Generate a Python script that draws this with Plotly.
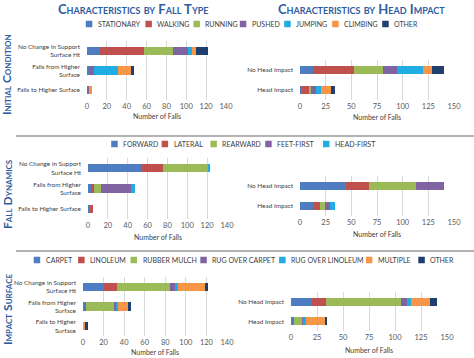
import plotly.graph_objects as go

W, H = 474, 358

# ---------------- data ----------------
fall_types = ["STATIONARY", "WALKING", "RUNNING", "PUSHED", "JUMPING", "CLIMBING", "OTHER"]
dynamics = ["FORWARD", "LATERAL", "REARWARD", "FEET-FIRST", "HEAD-FIRST"]
surfaces = ["CARPET", "LINOLEUM", "RUBBER MULCH", "RUG OVER CARPET", "RUG OVER LINOLEUM", "MULTIPLE", "OTHER"]

cond_cats = ["No Change in Support<br>Surface Ht", "Falls from Higher<br>Surface", "Falls to Higher Surface"]
cond_cats_surf = ["No Change in Support<br>Surface Ht", "Falls from Higher<br>Surface", "Falls to Higher<br>Surface"]
head_cats = ["No Head Impact", "Head Impact"]

# rows follow the series lists; columns follow the category lists
type_by_cond = [[13, 2, 0], [44, 0, 1], [30, 0, 0], [15, 5, 1], [4, 24, 0], [4, 14, 3], [12, 2, 0]]
type_by_head = [[13, 2], [40, 7], [28, 2], [13, 5], [26, 4], [9, 10], [11, 4]]
dyn_by_cond = [[53, 3, 2], [23, 3, 3], [45, 7, 0], [0, 30, 0], [1, 4, 0]]
dyn_by_head = [[45, 13], [22, 6], [46, 5], [27, 5], [0, 5]]
surf_by_cond = [[20, 2, 0], [13, 1, 0], [52, 27, 0], [4, 2, 0], [3, 2, 0], [27, 10, 2], [3, 3, 3]]
surf_by_head = [[20, 3], [14, 0], [72, 8], [6, 1], [3, 2], [19, 19], [6, 1]]

left_ticks = [0, 20, 40, 60, 80, 100, 120, 140]
right_ticks = [0, 25, 50, 75, 100, 125, 150]
x_title = "Number of Falls"

# ---------------- styling ----------------
colors7 = ["#4E7DC1", "#C0504D", "#9BBB59", "#8064A2", "#1FADE4", "#F79646", "#1F3F6E"]
colors5 = colors7[:5]
TITLE_C = "#2E5C9E"
FONT = "Lato"

def px_x(p):
    return p / W

def px_y(p):
    return 1 - p / H

# panel boxes in px: (x0, x1, ytop, ybottom, axis-title y)
panels = [
    (87, 226, 41, 100, 116),
    (300, 454, 60, 100, 117),
    (88, 227, 158, 219, 237),
    (300, 454, 176, 216, 234),
    (83, 227, 277, 336, 352),
    (291, 447, 292, 331, 350),
]
panel_data = [
    (fall_types, colors7, cond_cats, type_by_cond, left_ticks),
    (fall_types, colors7, head_cats, type_by_head, right_ticks),
    (dynamics, colors5, cond_cats, dyn_by_cond, left_ticks),
    (dynamics, colors5, head_cats, dyn_by_head, right_ticks),
    (surfaces, colors7, cond_cats_surf, surf_by_cond, left_ticks),
    (surfaces, colors7, head_cats, surf_by_head, right_ticks),
]

fig = go.Figure()
layout = {}
annotations = []
shapes = []
for i, ((x0, x1, yt, yb, ty), (names, cols, cats, vals, ticks)) in enumerate(zip(panels, panel_data), start=1):
    suffix = "" if i == 1 else str(i)
    for name, col, v in zip(names, cols, vals):
        fig.add_trace(go.Bar(
            x=v, y=cats, orientation="h", name=name,
            marker=dict(color=col, line=dict(width=0)),
            xaxis="x" + suffix, yaxis="y" + suffix, showlegend=False,
        ))
    layout["xaxis" + suffix] = dict(
        domain=[px_x(x0), px_x(x1)], anchor="y" + suffix,
        range=[0, ticks[-1]], tickvals=ticks, showgrid=True, gridcolor="#D9D9D9", gridwidth=1,
        zeroline=False, showline=False, ticks="", automargin=False, fixedrange=True,
        tickfont=dict(family=FONT, size=7.5, color="#595959"),
    )
    layout["yaxis" + suffix] = dict(
        domain=[px_y(yb), px_y(yt)], anchor="x" + suffix,
        categoryorder="array", categoryarray=cats, autorange="reversed",
        showgrid=False, zeroline=False, showline=False, ticks="", automargin=False, fixedrange=True,
        ticklabelstandoff=6,
        tickfont=dict(family=FONT, size=6.4, color="#404040"),
    )
    annotations.append(dict(text=x_title, x=px_x((x0 + x1) / 2), y=px_y(ty), xref="paper", yref="paper",
                            xanchor="center", yanchor="middle", showarrow=False,
                            font=dict(family=FONT, size=7, color="#404040")))

# titles
title_font = dict(family=FONT, size=13, color=TITLE_C, weight="bold", variant="small-caps")
for text, cx in [("Characteristics by Fall Type", 133), ("Characteristics by Head Impact", 361)]:
    annotations.append(dict(text=text, x=px_x(cx), y=px_y(9), xref="paper", yref="paper",
                            xanchor="center", yanchor="middle", showarrow=False, font=title_font))

# side labels
side_font = dict(family=FONT, size=12, color=TITLE_C, weight="bold", variant="small-caps")
for text, cy in [("Initial Condition", 75), ("Fall Dynamics", 194), ("Impact Surface", 310)]:
    annotations.append(dict(text=text, x=px_x(7), y=px_y(cy), xref="paper", yref="paper",
                            xanchor="center", yanchor="middle", textangle=-90, showarrow=False,
                            font=side_font))

# separators
for yy in [136, 251]:
    shapes.append(dict(type="line", xref="paper", yref="paper", x0=px_x(16), x1=1,
                       y0=px_y(yy), y1=px_y(yy), line=dict(color="#9A9A9A", width=1.3)))

# legends (one row each)
def text_w(s):
    w = 0.0
    for ch in s:
        if ch == " ":
            w += 1.8
        elif ch == "-":
            w += 2.6
        elif ch in "MW":
            w += 6.0
        elif ch == "I":
            w += 2.0
        else:
            w += 4.4
    return w

SW, GAP, SEP = 6.5, 3.5, 8.0

def add_legend(names, cols, cx, cy):
    total = sum(SW + GAP + text_w(n) for n in names) + SEP * (len(names) - 1)
    x = cx - total / 2
    for n, c in zip(names, cols):
        shapes.append(dict(type="rect", xref="paper", yref="paper",
                           x0=px_x(x), x1=px_x(x + SW), y0=px_y(cy + SW / 2), y1=px_y(cy - SW / 2),
                           fillcolor=c, line=dict(width=0)))
        annotations.append(dict(text=n, x=px_x(x + SW + GAP), y=px_y(cy), xref="paper", yref="paper",
                                xanchor="left", yanchor="middle", showarrow=False,
                                font=dict(family=FONT, size=7, color="#404040")))
        x += SW + GAP + text_w(n) + SEP

add_legend(fall_types, colors7, 250, 24)
add_legend(dynamics, colors5, 242, 144)
add_legend(surfaces, colors7, 242, 260)

fig.update_layout(
    width=W, height=H, margin=dict(l=0, r=0, t=0, b=0),
    paper_bgcolor="white", plot_bgcolor="white",
    barmode="stack", bargap=0.58, showlegend=False,
    annotations=annotations, shapes=shapes,
    **layout,
)

fig.write_html(
    "out.html",
    config={"displayModeBar": False, "responsive": False},
    post_script="document.body.style.margin='0';document.body.style.overflow='hidden';",
)
